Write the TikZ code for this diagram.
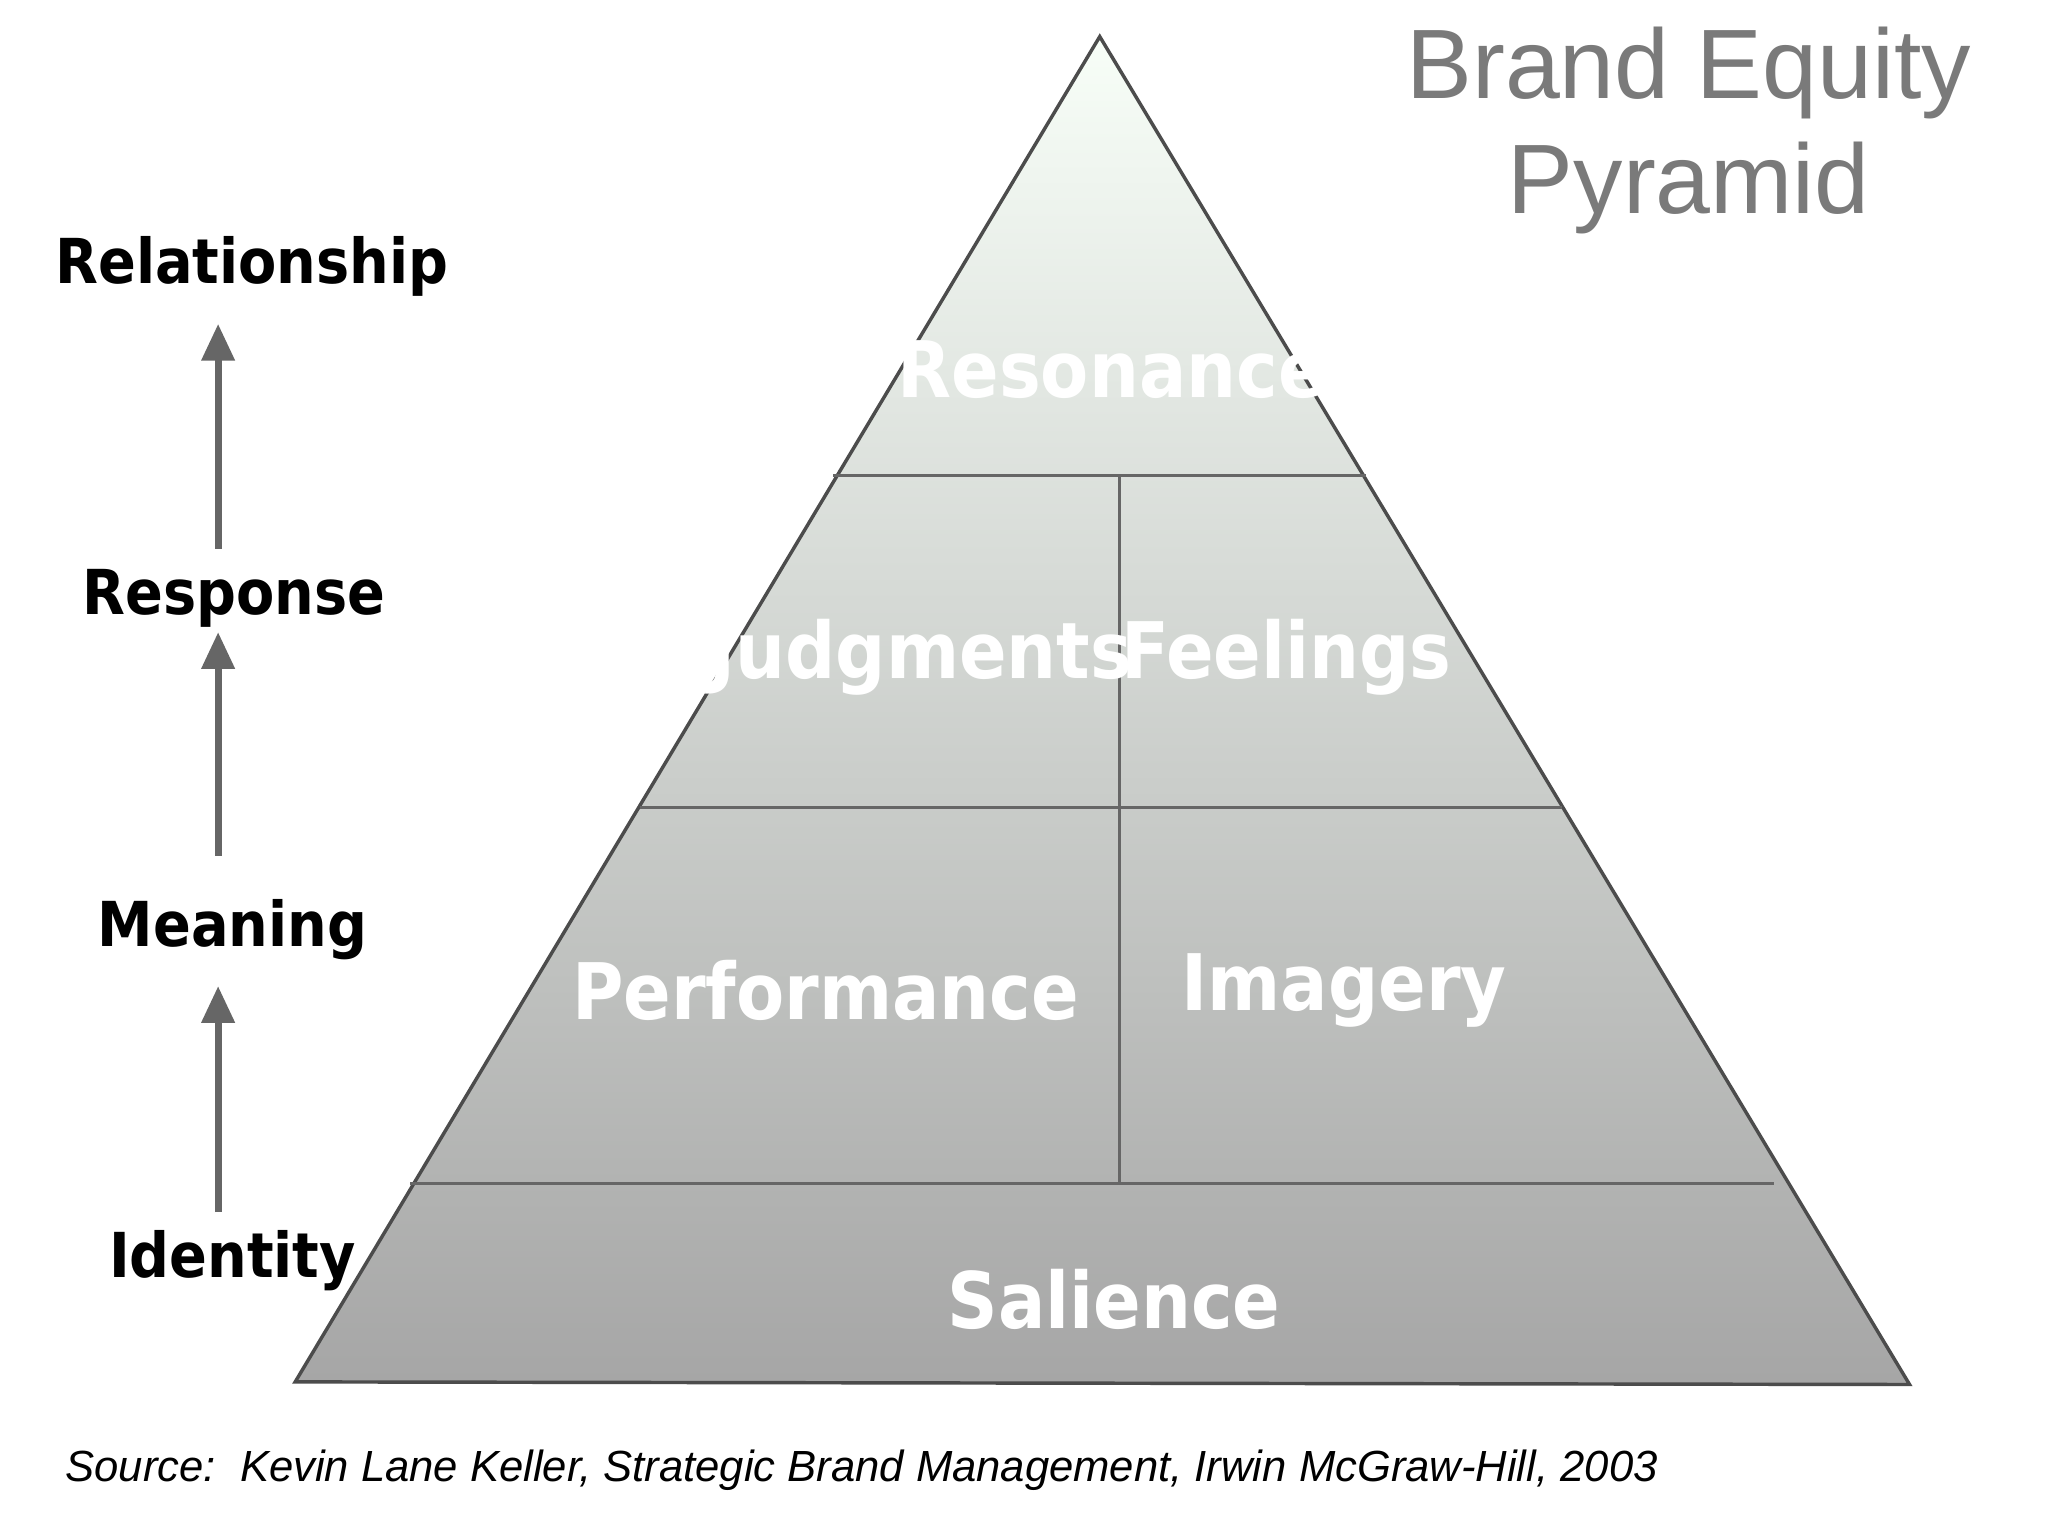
\documentclass[tikz,border=0pt]{standalone}
\usepackage{fontspec}
\setmainfont{Liberation Sans}
\newfontfamily\lblfont{DejaVu Sans Condensed}
\usetikzlibrary{arrows.meta,shadows}
\definecolor{tg}{HTML}{7A7A7A}
\begin{document}
\begin{tikzpicture}[x=0.02cm,y=-0.02cm,
  lvl/.style={font=\lblfont\bfseries\fontsize{27}{30}\selectfont,text=black},
  pyr/.style={font=\lblfont\bfseries\fontsize{34}{38}\selectfont,text=white},
  sep/.style={draw=black!60,line width=1.2pt},
  uparrow/.style={draw=gray!80!black,line width=3pt,-{Triangle[length=16pt,width=14pt]}}]
\useasboundingbox[fill=white] (0,0) rectangle (1568,1176);
\coordinate (apex) at (842,28);
\coordinate (bl) at (226,1058);
\coordinate (br) at (1462,1060);
\shade[top color=black!12!green!3!white, bottom color=black!35, draw=black!70, line width=1.5pt]
  (apex) -- (br) -- (bl) -- cycle;
\draw[sep] (638,364) -- (1046,364);
\draw[sep] (490,618) -- (1196,618);
\draw[sep] (314,906) -- (1358,906);
\draw[sep] (857,364) -- (857,906);
\node[pyr] (res) at (851,283) {Resonance};
\node[pyr] (jud) at (705,503) {Judgments};
\node[pyr] (fee) at (985,503) {Feelings};
\node[pyr] (per) at (632,758) {Performance};
\node[pyr] (ima) at (1029,758) {Imagery};
\node[pyr] (sal) at (853,995) {Salience};
\node[lvl] (rel) at (193,204) {Relationship};
\node[lvl] (rsp) at (179,458) {Response};
\node[lvl] (mea) at (178,712) {Meaning};
\node[lvl] (ide) at (178,965) {Identity};
\coordinate (a1s) at (167,420); \coordinate (a1e) at (167,248);
\coordinate (a2s) at (167,655); \coordinate (a2e) at (167,484);
\coordinate (a3s) at (167,928); \coordinate (a3e) at (167,755);
\draw[uparrow] (a1s) -- (a1e);
\draw[uparrow] (a2s) -- (a2e);
\draw[uparrow] (a3s) -- (a3e);
\node[text=tg,font=\fontsize{43}{50}\selectfont,align=center] (title) at (1293,100) {Brand Equity\\Pyramid};
\node[anchor=west,font=\itshape\fontsize{19}{22}\selectfont] (src) at (44,1126) {Source:\ \ Kevin Lane Keller, Strategic Brand Management, Irwin McGraw-Hill, 2003};
\end{tikzpicture}
\end{document}
